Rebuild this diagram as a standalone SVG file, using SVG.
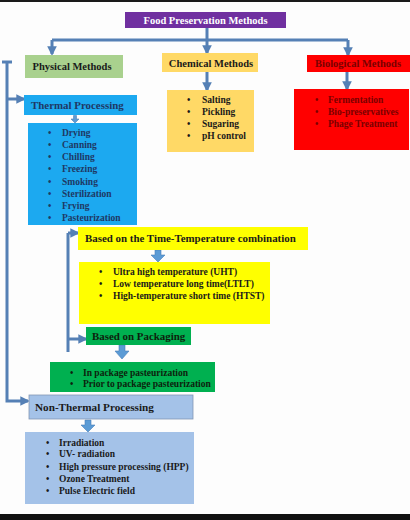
<svg xmlns="http://www.w3.org/2000/svg" width="410" height="520" viewBox="0 0 410 520">
<defs>
<style>
text{font-family:"Liberation Serif","Times New Roman",serif;font-weight:bold;}
.t{font-size:10.5px;}
.h{font-size:10.9px;}
.l{font-size:9.5px;}
.c{stroke:#5580B5;stroke-width:3;fill:none;}
.ba{fill:#5B9BD5;stroke:#4A7FB8;stroke-width:0.6;}
</style>
<marker id="ah" viewBox="0 0 10 10" refX="8" refY="5" markerWidth="3.2" markerHeight="3.2" orient="auto" markerUnits="strokeWidth">
<path d="M0,0 L10,5 L0,10 z" fill="#5580B5"/>
</marker>
</defs>
<rect x="0" y="0" width="410" height="520" fill="#fdfdfd"/>
<rect x="0" y="0" width="410" height="2" fill="#1a1a1a"/>
<rect x="0" y="514" width="410" height="6" fill="#111"/>

<g id="connectors">
<path class="c" d="M207 28 V40"/>
<path class="c" d="M52 40 H348"/>
<path class="c" d="M52 40 V54" marker-end="url(#ah)"/>
<path class="c" d="M207 40 V53" marker-end="url(#ah)"/>
<path class="c" d="M348 40 V55" marker-end="url(#ah)"/>
<path class="c" d="M207 72 V90" marker-end="url(#ah)"/>
<path class="c" d="M347 72 V89" marker-end="url(#ah)"/>
<path class="c" d="M2 62 H12"/>
<path class="c" d="M7 62 V401 H28" marker-end="url(#ah)"/>
<path class="c" d="M7 99 H24" marker-end="url(#ah)"/>
<path class="c" d="M68 233 V352"/>
<path class="c" d="M68 233 H78" marker-end="url(#ah)"/>
<path class="c" d="M68 339 H86" marker-end="url(#ah)"/>
<polygon class="ba" points="73.5,115.5 76.5,115.5 76.5,119 79,119 75,123 71,119 73.5,119"/>
<polygon class="ba" points="155,250 161,250 161,255 165,255 158,262 151,255 155,255"/>
<polygon class="ba" points="119,345 125,345 125,351 129,351 122,359 115,351 119,351"/>
<polygon class="ba" points="85,420 91,420 91,425 95,425 88,432 81,425 85,425"/>
</g>

<g id="title">
<rect x="125" y="12" width="161" height="16" fill="#7030A0"/>
<text class="t" x="205.5" y="24" text-anchor="middle" fill="#ffffff">Food Preservation Methods</text>
</g>

<g id="physical">
<rect x="25" y="55" width="98" height="23" fill="#A9D18E"/>
<text class="t" x="72" y="70" text-anchor="middle" fill="#1a1a1a">Physical Methods</text>
</g>

<g id="chemical">
<rect x="162" y="53" width="96" height="19" fill="#FFD966"/>
<text class="t" x="211" y="66.5" text-anchor="middle" fill="#1a1a1a">Chemical Methods</text>
</g>

<g id="biological">
<rect x="307" y="55" width="103" height="17" fill="#FF0000"/>
<text class="t" x="358" y="67" text-anchor="middle" fill="#7a0000">Biological Methods</text>
</g>

<g id="chemical-list">
<rect x="167" y="90" width="87" height="62" fill="#FFD966"/>
<g class="l" fill="#1a1a1a">
<text x="187" y="102.5">•</text><text x="202" y="102.5">Salting</text>
<text x="187" y="114.5">•</text><text x="202" y="114.5">Pickling</text>
<text x="187" y="126.5">•</text><text x="202" y="126.5">Sugaring</text>
<text x="187" y="139">•</text><text x="202" y="139">pH control</text>
</g>
</g>

<g id="biological-list">
<rect x="294" y="89" width="115" height="61" fill="#FF0000"/>
<g class="l" fill="#7a0000">
<text x="315" y="102.5">•</text><text x="328" y="102.5">Fermentation</text>
<text x="315" y="114.5">•</text><text x="328" y="114.5">Bio-preservatives</text>
<text x="315" y="126.5">•</text><text x="328" y="126.5">Phage Treatment</text>
</g>
</g>

<g id="thermal">
<rect x="24" y="95" width="113" height="20" fill="#1CA9F0"/>
<text class="h" x="31" y="109" fill="#1F3864">Thermal Processing</text>
</g>

<g id="thermal-list">
<rect x="28" y="123" width="109" height="102" fill="#1CA9F0"/>
<g class="l" fill="#1F3864">
<text x="48" y="135.5">•</text><text x="62" y="135.5">Drying</text>
<text x="48" y="147.5">•</text><text x="62" y="147.5">Canning</text>
<text x="48" y="160">•</text><text x="62" y="160">Chilling</text>
<text x="48" y="172">•</text><text x="62" y="172">Freezing</text>
<text x="48" y="184.5">•</text><text x="62" y="184.5">Smoking</text>
<text x="48" y="196.5">•</text><text x="62" y="196.5">Sterilization</text>
<text x="48" y="209">•</text><text x="62" y="209">Frying</text>
<text x="48" y="221">•</text><text x="62" y="221">Pasteurization</text>
</g>
</g>

<g id="time-temperature">
<rect x="78" y="227" width="230" height="23" fill="#FFFF00"/>
<text class="h" x="85" y="241.5" fill="#1a1a1a">Based on the Time-Temperature combination</text>
</g>

<g id="time-temperature-list">
<rect x="79" y="262" width="191" height="62" fill="#FFFF00"/>
<g class="l" fill="#1a1a1a">
<text x="99" y="274.5">•</text><text x="113" y="274.5">Ultra high temperature (UHT)</text>
<text x="99" y="286.5">•</text><text x="113" y="286.5">Low temperature long time(LTLT)</text>
<text x="99" y="298.5">•</text><text x="113" y="298.5">High-temperature short time (HTST)</text>
</g>
</g>

<g id="packaging">
<rect x="86" y="327" width="105" height="18" fill="#00B050"/>
<text class="h" x="92" y="340" fill="#0d1f0d">Based on Packaging</text>
</g>

<g id="packaging-list">
<rect x="50" y="362" width="165" height="30" fill="#00B050"/>
<g class="l" fill="#0d1f0d">
<text x="70" y="375.5">•</text><text x="83" y="375.5">In package pasteurization</text>
<text x="70" y="386.5">•</text><text x="83" y="386.5">Prior to package pasteurization</text>
</g>
</g>

<g id="non-thermal">
<rect x="29" y="395" width="164" height="24" fill="#A4C2E8" stroke="#8397B3" stroke-width="0.8"/>
<text class="h" x="35" y="411" fill="#1a1a1a" style="font-size:11.2px">Non-Thermal Processing</text>
</g>

<g id="non-thermal-list">
<rect x="25" y="432" width="169" height="72" fill="#A4C2E8"/>
<g class="l" fill="#1a1a1a">
<text x="46" y="445.5">•</text><text x="59" y="445.5">Irradiation</text>
<text x="46" y="456.5">•</text><text x="59" y="456.5">UV- radiation</text>
<text x="46" y="469.5">•</text><text x="59" y="469.5">High pressure processing (HPP)</text>
<text x="46" y="481.5">•</text><text x="59" y="481.5">Ozone Treatment</text>
<text x="46" y="493.5">•</text><text x="59" y="493.5">Pulse Electric field</text>
</g>
</g>
</svg>
